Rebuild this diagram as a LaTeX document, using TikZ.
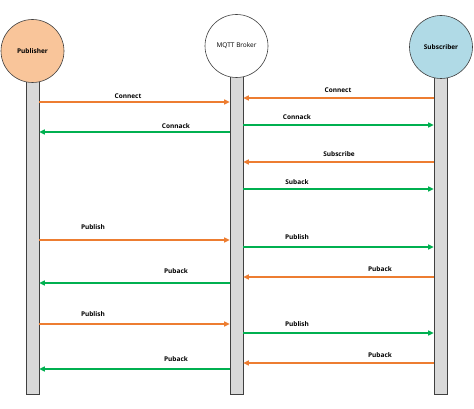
\documentclass[tikz,border=0pt]{standalone}
\usepackage{fontspec}
\setmainfont{Open Sans}
\usetikzlibrary{arrows.meta}
\definecolor{msgorange}{HTML}{ED7D31}
\definecolor{msggreen}{HTML}{00B050}
\definecolor{pubfill}{HTML}{F9C59A}
\definecolor{subfill}{HTML}{B0DAE6}
\definecolor{linefill}{HTML}{D9D9D9}
\tikzset{
  actor/.style={circle, draw=black!75, line width=0.6pt, minimum size=63pt, inner sep=0pt, font=\fontsize{6.5}{8}\selectfont},
  lifeline/.style={draw=black!75, fill=linefill, line width=0.6pt, minimum width=13pt, minimum height=324pt, inner sep=0pt},
  msg/.style={line width=1.3pt, -{Triangle[length=5.5pt,width=5pt]}},
  msglabel/.style={font=\bfseries\fontsize{6.5}{8}\selectfont, inner sep=1pt}
}
\begin{document}
\begin{tikzpicture}[x=1pt,y=-1pt]
  \useasboundingbox (0,0) rectangle (474,409);
  % lifelines
  \node[lifeline] (publine) at (32.5,232) {};
  \node[lifeline] (brokline) at (236.5,232) {};
  \node[lifeline] (subline) at (440.5,232) {};
  % actors
  \node[actor, fill=pubfill, font=\bfseries\fontsize{6.5}{8}\selectfont] (pub) at (32.5,51) {Publisher};
  \node[actor, fill=white] (brok) at (236.5,46) {MQTT Broker};
  \node[actor, fill=subfill, font=\bfseries\fontsize{6.5}{8}\selectfont] (sub) at (441,47) {Subscriber};
  % messages: y / from / to / colour / label x / label y / text
  \foreach \y/\src/\dst/\col/\lx/\ly/\txt in {
    102/publine.east/brokline.west/msgorange/128/96/Connect,
    98/subline.west/brokline.east/msgorange/338/90/Connect,
    125/brokline.east/subline.west/msggreen/297/117/Connack,
    132/brokline.west/publine.east/msggreen/176/126/Connack,
    162/subline.west/brokline.east/msgorange/339/154/Subscribe,
    189/brokline.east/subline.west/msggreen/297/182/Suback,
    240/publine.east/brokline.west/msgorange/93/227/Publish,
    247/brokline.east/subline.west/msggreen/297/237/Publish,
    277/subline.west/brokline.east/msgorange/380/269/Puback,
    283/brokline.west/publine.east/msggreen/176/271/Puback,
    324/publine.east/brokline.west/msgorange/93/314/Publish,
    333/brokline.east/subline.west/msggreen/297/324/Publish,
    363/subline.west/brokline.east/msgorange/380/355/Puback,
    369/brokline.west/publine.east/msggreen/176/359/Puback}
  {
    \draw[msg, \col] (\src |- 0,\y) -- (\dst |- 0,\y);
    \node[msglabel] at (\lx,\ly) {\txt};
  }
\end{tikzpicture}
\end{document}
